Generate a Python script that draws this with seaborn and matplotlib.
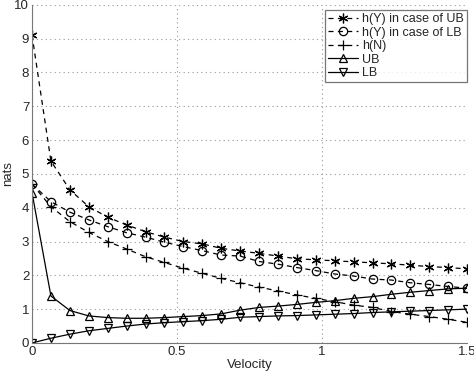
import numpy as np
import pandas as pd
import matplotlib
matplotlib.use("Agg")
import matplotlib.pyplot as plt
import seaborn as sns

# 24 sample points between 0 and 1.5
velocity = np.linspace(0, 1.5, 24)

hY_ub = [9.11, 5.38, 4.53, 4.03, 3.72, 3.49, 3.29, 3.13, 3.00, 2.93, 2.80, 2.72,
         2.65, 2.57, 2.49, 2.46, 2.43, 2.40, 2.37, 2.34, 2.30, 2.26, 2.23, 2.19]
hY_lb = [4.70, 4.18, 3.87, 3.64, 3.44, 3.26, 3.13, 2.98, 2.85, 2.73, 2.60, 2.57,
         2.41, 2.33, 2.23, 2.14, 2.04, 1.98, 1.89, 1.86, 1.78, 1.73, 1.67, 1.62]
hN = [4.70, 4.03, 3.59, 3.27, 3.00, 2.78, 2.55, 2.38, 2.21, 2.06, 1.91, 1.78,
      1.65, 1.54, 1.42, 1.32, 1.22, 1.12, 1.05, 0.93, 0.85, 0.78, 0.70, 0.61]
ub = [4.45, 1.39, 0.96, 0.80, 0.75, 0.73, 0.73, 0.75, 0.78, 0.81, 0.86, 0.97,
      1.05, 1.09, 1.14, 1.20, 1.25, 1.32, 1.37, 1.44, 1.50, 1.55, 1.60, 1.62]
lb = [0.00, 0.14, 0.26, 0.36, 0.43, 0.50, 0.56, 0.60, 0.63, 0.66, 0.70, 0.76,
      0.78, 0.80, 0.81, 0.83, 0.85, 0.87, 0.90, 0.92, 0.94, 0.96, 0.98, 1.00]

labels = ["h(Y) in case of UB", "h(Y) in case of LB", "h(N)", "UB", "LB"]
markers = [(6, 2, 0), "o", "+", "^", "v"]
msizes = [7, 6, 7, 6, 6]
styles = [(0, (4, 3.5)), (0, (4, 3.5)), (0, (4, 3.5)), "-", "-"]

df = pd.DataFrame({
    "Velocity": np.tile(velocity, 5),
    "nats": hY_ub + hY_lb + hN + ub + lb,
    "series": np.repeat(labels, len(velocity)),
})

sns.set_style("white")
plt.rcParams["font.family"] = ["Liberation Sans", "DejaVu Sans"]

fig = plt.figure(figsize=(4.74, 3.74), dpi=100)
ax = fig.add_axes([0.0675, 0.083, 0.918, 0.904])

for lab, mk, ms, ls in zip(labels, markers, msizes, styles):
    sub = df[df["series"] == lab]
    sns.lineplot(data=sub, x="Velocity", y="nats", ax=ax, color="black",
                 linewidth=0.9, linestyle=ls, marker=mk, markersize=ms,
                 markerfacecolor="none", markeredgecolor="black", markeredgewidth=0.9,
                 label=lab)

ax.set_xlim(0, 1.5)
ax.set_ylim(0, 10)
ax.set_xticks([0, 0.5, 1, 1.5])
ax.set_xticklabels(["0", "0.5", "1", "1.5"])
ax.set_yticks(range(0, 11))
ax.grid(True, color="#999999", linestyle=(0, (1, 3)), linewidth=0.8)
for s in ["top", "right"]:
    ax.spines[s].set_visible(False)
for s in ["left", "bottom"]:
    ax.spines[s].set_color("#777777")
    ax.spines[s].set_linewidth(0.8)
ax.tick_params(axis="both", direction="in", length=3, labelsize=9.5, pad=2,
               color="#777777")
ax.set_xlabel("Velocity", fontsize=9.5, labelpad=1)
ax.set_ylabel("nats", fontsize=9.5, labelpad=0)

leg = ax.legend(loc="upper right", bbox_to_anchor=(1.0, 0.985), fontsize=9,
                frameon=True, fancybox=False, handlelength=2.4, handletextpad=0.3,
                borderpad=0.25, labelspacing=0.12, borderaxespad=0)
leg.get_frame().set_edgecolor("#555555")
leg.get_frame().set_linewidth(0.9)

fig.savefig("out.png", dpi=100)
